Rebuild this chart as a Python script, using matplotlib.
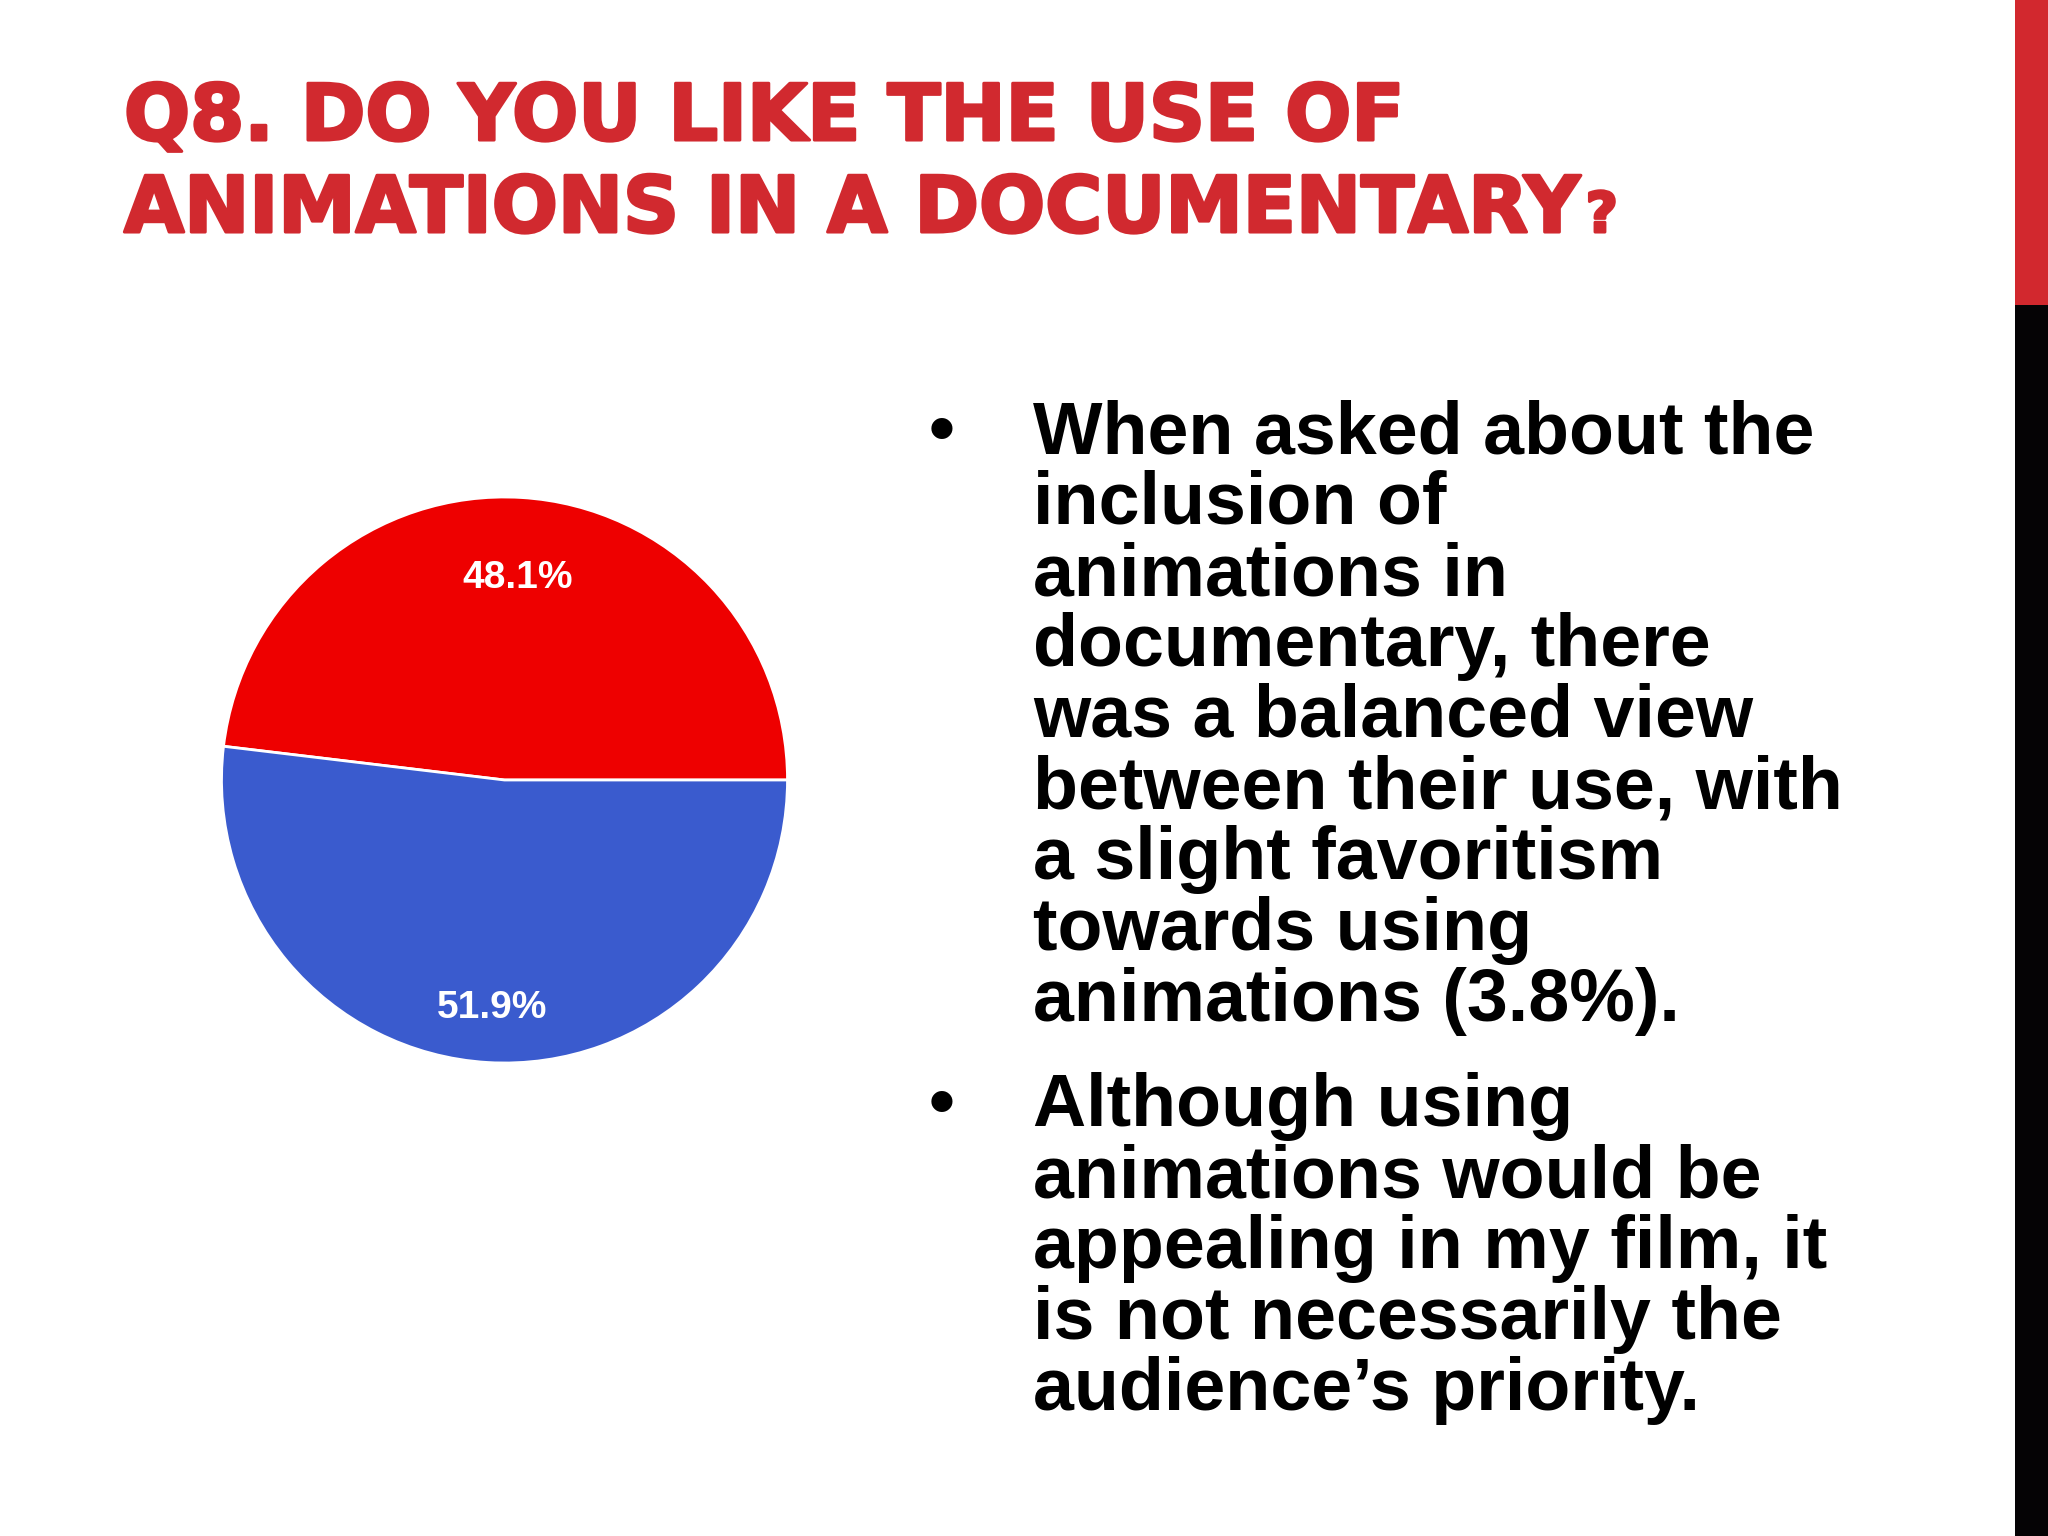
import matplotlib
matplotlib.use("Agg")
import matplotlib.pyplot as plt
import matplotlib.transforms as mtransforms
import matplotlib.patheffects as pe
from matplotlib.patches import Rectangle

# ---- data ----
slice_values = [48.1, 51.9]
slice_labels = ["Yes", "No"]
slice_colors = ["#EE0000", "#3A5BCE"]

title_line1 = "Q8. DO YOU LIKE THE USE OF"
title_line2 = "ANIMATIONS IN A DOCUMENTARY"
title_tail = "?"

bullet1_lines = [
    "When asked about the",
    "inclusion of",
    "animations in",
    "documentary, there",
    "was a balanced view",
    "between their use, with",
    "a slight favoritism",
    "towards using",
    "animations (3.8%).",
]
bullet2_lines = [
    "Although using",
    "animations would be",
    "appealing in my film, it",
    "is not necessarily the",
    "audience\u2019s priority.",
]

W, H = 2048, 1536
fig = plt.figure(figsize=(W / 100, H / 100), dpi=100)
fig.patch.set_facecolor("white")

def fx(px):
    return px / W

def fy(py_from_top):
    return 1 - py_from_top / H

# right decorative bar
bar_ax = fig.add_axes([0, 0, 1, 1], zorder=-1)
bar_ax.set_xlim(0, W)
bar_ax.set_ylim(H, 0)
bar_ax.axis("off")
bar_ax.add_patch(Rectangle((2015, 0), W - 2015, 305, color="#D2282E", lw=0))
bar_ax.add_patch(Rectangle((2015, 305), W - 2015, H - 305, color="#050305", lw=0))

# title
title_color = "#D1292F"
thick = [pe.withStroke(linewidth=2.2, foreground=title_color)]
tkw = dict(family="DejaVu Sans", weight="bold", color=title_color, fontsize=56,
           va="baseline", ha="left", path_effects=thick)
fig.text(fx(124), fy(140), title_line1, **tkw)
t2 = fig.text(fx(124), fy(232), title_line2, **tkw)
fig.canvas.draw()
bb = t2.get_window_extent()
fig.text(bb.x1 / W + 0.003, fy(232), title_tail, family="DejaVu Sans", weight="bold",
         color=title_color, fontsize=40, va="baseline", ha="left", path_effects=thick)

# pie
cx, cy, r = 504.5, 780, 283
ax = fig.add_axes([fx(cx - r), fy(cy + r), 2 * r / W, 2 * r / H])
wedges, texts, autotexts = ax.pie(
    slice_values, colors=slice_colors, startangle=0, counterclock=True,
    autopct="%.1f%%", pctdistance=0.76, radius=1,
    wedgeprops=dict(edgecolor="white", linewidth=2),
    textprops=dict(color="white", fontsize=28, family="Liberation Sans", weight="bold"),
)
for t in autotexts:
    t.set_transform(mtransforms.offset_copy(t.get_transform(), fig=fig, y=-13, units="dots"))
ax.set_xlim(-1, 1)
ax.set_ylim(-1, 1)
ax.set_aspect("equal")
ax.axis("off")

# bullet text
bkw = dict(family="Liberation Sans", weight="bold", color="black", fontsize=53, va="baseline", ha="left")
text_x = 1033
bullet_x = 942
step = 71
y0 = 453
fig.text(fx(bullet_x), fy(y0), "\u2022", family="Liberation Sans", weight="bold", fontsize=53,
         va="baseline", ha="center")
for i, line in enumerate(bullet1_lines):
    fig.text(fx(text_x), fy(y0 + i * step), line, **bkw)
y1 = 1126
fig.text(fx(bullet_x), fy(y1), "\u2022", family="Liberation Sans", weight="bold", fontsize=53,
         va="baseline", ha="center")
for i, line in enumerate(bullet2_lines):
    fig.text(fx(text_x), fy(y1 + i * step), line, **bkw)

fig.savefig("out.png", dpi=100, facecolor="white")
